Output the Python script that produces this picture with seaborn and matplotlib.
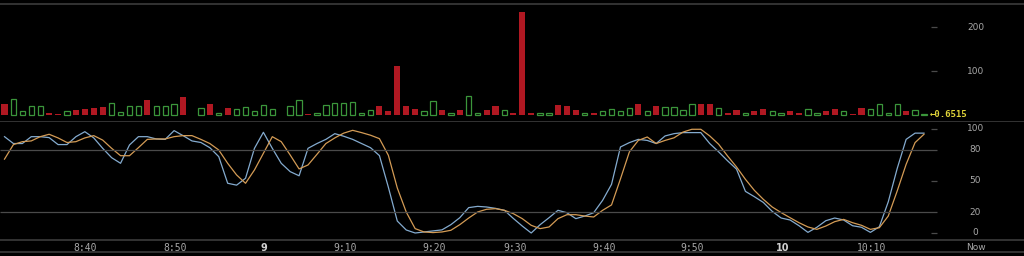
import matplotlib
matplotlib.use("Agg")
import matplotlib.pyplot as plt
import seaborn as sns
import pandas as pd
import numpy as np
from matplotlib.lines import Line2D

# ---------------- data ----------------
volume = [24, 37, 8, 21, 21, 5, 2, 10, 12, 13, 16, 18, 28, 6, 21, 21, 35, 20, 20, 26,
          40, 0, 15, 24, 5, 15, 13, 19, 8, 23, 13, 0, 20, 34, 3, 5, 23, 28, 27, 30,
          4, 12, 21, 9, 111, 21, 14, 8, 31, 12, 4, 12, 43, 5, 12, 21, 12, 4, 235, 5,
          4, 5, 23, 21, 12, 5, 5, 10, 14, 8, 16, 24, 8, 21, 18, 18, 12, 26, 24, 26,
          16, 4, 11, 4, 8, 14, 8, 5, 8, 4, 13, 5, 8, 13, 10, 3, 16, 13, 24, 5,
          24, 8, 11, 3]
direction = list("duuuuddudddduuuuduuu"
                 "duududuuuuuuuuduuuuu"
                 "uuddddduududuudduddd"
                 "uuddduduuuududuuuudd"
                 "uddudduudduuddudduuu"
                 "uduu")
stoch_k = [92.6, 86, 86, 92.6, 92.6, 91.7, 85, 85, 92.6, 97.4, 91.4, 81.4, 72.4, 67, 84.6, 92.6,
           92.6, 90.4, 90, 98.4, 93.6, 88.5, 87, 82, 73.4, 47.8, 46, 52.6, 81.4, 96.8, 81.4, 67,
           59, 55, 81.4, 86, 90, 95.5, 93, 90, 86, 82, 74.4, 44, 11.5, 2.9, 0, 1, 2, 3,
           8, 14.7, 24.4, 25.6, 25, 23.7, 21.8, 14, 6.7, 0, 8, 14.7, 21.8, 19.5, 13.8, 16.3,
           19.5, 31.4, 46.8, 82.7, 86.9, 90, 89, 86, 93.3, 95.5, 96.5, 96.5, 96.5, 86, 78, 69.4,
           61.4, 40, 34.9, 29.4, 20.8, 14.4, 12.5, 7, 0.6, 5.5, 11.8, 14.4, 12.5, 7, 5.5, 0.6,
           6, 30, 62, 90, 96, 96]
stoch_d = [71, 85, 87.8, 88.5, 92.6, 94.9, 91.4, 87, 87.8, 91.4, 93.6, 89.3, 81.4, 74.3, 74.3, 82,
           90, 90.4, 90.4, 92.6, 93.6, 93.6, 90, 86, 79.8, 67, 55.8, 47.8, 60.6, 76.6, 92.6, 87.8,
           75, 61.6, 65.4, 75.6, 86, 91.4, 96, 98.7, 96.5, 94, 90.7, 74.7, 43.3, 20.2, 4.2, 1,
           0.4, 1, 2.6, 8, 14.4, 20.2, 22.8, 23.4, 21.8, 18.6, 13.8, 7.4, 4.2, 5.8, 13.8, 17.6,
           17.6, 16.3, 15.4, 21.8, 27, 52, 78, 89, 92.3, 86, 89, 91.5, 97, 99.7, 99.7, 93.3,
           85.3, 74, 63.5, 51.6, 41, 32.4, 25, 19.6, 14.7, 9.9, 5.8, 3.5, 6.7, 10.9, 13.1, 9.9,
           7.4, 3.5, 5.1, 16.3, 40.4, 66, 86.9, 94.9]
tick_labels = ["8:40", "8:50", "9", "9:10", "9:20", "9:30", "9:40", "9:50", "10", "10:10", "Now"]
tick_pos = [10.05, 20.10, 30.07, 39.14, 49.11, 58.19, 68.16, 78.01, 88.15, 98.18, 109.77]
vol_ticks = [100, 200]
stoch_ticks = [0, 20, 50, 80, 100]
stoch_grid = [20, 80]
last_value = "0.6515"

# ---------------- style ----------------
RED = "#b01822"
GREEN = "#3b963b"
BLUE = "#84abcf"
ORANGE = "#d39b55"
LINE = "#3c3c3c"
GRID = "#4a4a4a"
TXT = "#a8a8a8"

W, H = 1024, 256
fig = plt.figure(figsize=(W / 100, H / 100), dpi=100, facecolor="black")
ax1 = fig.add_axes([0, 1 - 122 / H, 1, 118 / H])
ax2 = fig.add_axes([0, 1 - 240 / H, 1, 118 / H])
for ax in (ax1, ax2):
    ax.set_facecolor("black")

idx = np.arange(1, len(volume) + 1)
df = pd.DataFrame({"idx": idx, "volume": volume, "dir": direction})
down = df[(df["dir"] == "d") & (df["volume"] > 0)]
up = df[(df["dir"] == "u") & (df["volume"] > 0)]

sns.barplot(data=down, x="idx", y="volume", native_scale=True, color=RED,
            width=0.68, errorbar=None, ax=ax1, linewidth=0, saturation=1)
sns.barplot(data=up, x="idx", y="volume", native_scale=True, color=GREEN, fill=False,
            width=0.6, errorbar=None, ax=ax1, linewidth=0.9, saturation=1)

sns.lineplot(x=idx, y=stoch_k, color=BLUE, lw=0.9, ax=ax2)
sns.lineplot(x=idx, y=stoch_d, color=ORANGE, lw=0.9, ax=ax2)

x0 = 1 - 4.5 / 8.927
x1 = 1 + (W - 4.5) / 8.927
for ax in (ax1, ax2):
    ax.set_xlim(x0, x1)
    ax.set_xlabel("")
    ax.set_ylabel("")
    ax.set_yticks([])
    for s in ("left", "right"):
        ax.spines[s].set_visible(False)
ax1.set_ylim(-15.9, 252.3)
ax2.set_ylim(-6.73, 106.7)

ax1.set_xticks([])
ax1.spines["top"].set_color(LINE)
ax1.spines["bottom"].set_color(LINE)
ax1.spines["top"].set_linewidth(1.2)
ax1.spines["bottom"].set_linewidth(1.2)
ax2.spines["top"].set_visible(False)
ax2.spines["bottom"].set_color(LINE)
ax2.spines["bottom"].set_linewidth(1.2)
fig.add_artist(Line2D([0, 1], [1 - 252 / H] * 2, transform=fig.transFigure,
                      color=LINE, lw=1.2))

# right-side value ticks
tx0, tx1, tlab = 931 / W, 937 / W, 975.5 / W
ax1.hlines(vol_ticks, tx0, tx1, transform=ax1.get_yaxis_transform(), color=GRID, lw=0.9)
for v in vol_ticks:
    ax1.text(tlab, v, str(v), transform=ax1.get_yaxis_transform(), ha="center",
             va="center", color=TXT, fontsize=6.5, family="DejaVu Sans")
ax2.hlines(stoch_grid, 0, tx1, transform=ax2.get_yaxis_transform(), color=GRID, lw=0.9)
ax2.hlines([t for t in stoch_ticks if t not in stoch_grid], tx0, tx1,
           transform=ax2.get_yaxis_transform(), color=GRID, lw=0.9)
for v in stoch_ticks:
    ax2.text(tlab, v, str(v), transform=ax2.get_yaxis_transform(), ha="center",
             va="center", color=TXT, fontsize=6.5, family="DejaVu Sans")

ax1.text(930 / W, 0.6515, "\u2190" + last_value, transform=ax1.get_yaxis_transform(),
         ha="left", va="center", color="#e0d43a", fontsize=6.5,
         family="DejaVu Sans Mono", fontweight="bold")

ax2.set_xticks(tick_pos, tick_labels)
ax2.tick_params(axis="x", length=0, pad=2.5, colors=TXT, labelsize=7)
for lab in ax2.get_xticklabels():
    t = lab.get_text()
    if t == "Now":
        lab.set_family("DejaVu Sans")
        lab.set_fontsize(6.5)
    elif ":" not in t:
        lab.set_family("DejaVu Sans")
        lab.set_fontweight("bold")
        lab.set_color("#d0d0d0")
    else:
        lab.set_family("DejaVu Sans Mono")

fig.savefig("out.png", dpi=100, facecolor="black")
